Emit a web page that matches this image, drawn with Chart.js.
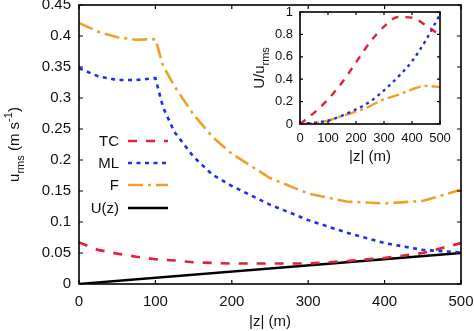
<!DOCTYPE html>
<html>
<head>
<meta charset="utf-8">
<script src="https://cdn.jsdelivr.net/npm/chart.js@4"></script>
<style>
  body { margin: 0; background: #fff; }
  #wrap { position: relative; width: 474px; height: 331px; }
  #mainChart { position: absolute; left: 0; top: 0; }
  #insetChart { position: absolute; left: 250px; top: 0; }
</style>
</head>
<body>
<div id="wrap">
  <canvas id="mainChart" width="474" height="331"></canvas>
  <canvas id="insetChart" width="215" height="170"></canvas>
</div>
<script>
// rms velocity profiles vs depth |z| (m)
const zProfile = [0, 25, 50, 75, 100, 110, 125, 150, 175, 200, 250, 300, 350, 400, 450, 500];
const tcRms = [0.067, 0.055, 0.049, 0.044, 0.040, 0.039, 0.038, 0.035, 0.034, 0.033, 0.033, 0.033, 0.037, 0.042, 0.050, 0.066];
const mlRms = [0.348, 0.335, 0.329, 0.329, 0.332, 0.285, 0.245, 0.205, 0.176, 0.158, 0.128, 0.103, 0.083, 0.066, 0.055, 0.051];
const fRms = [0.421, 0.407, 0.398, 0.394, 0.395, 0.352, 0.319, 0.273, 0.237, 0.210, 0.171, 0.146, 0.133, 0.130, 0.134, 0.152];
// mean current U(z)
const zMean = [0, 500];
const meanU = [0, 0.05];

// ratio U/u_rms for the inset
const zRatio = [0, 50, 100, 150, 200, 250, 300, 350, 400, 450, 500];
const tcRatio = [0, 0.10, 0.22, 0.37, 0.55, 0.73, 0.87, 0.955, 0.95, 0.88, 0.79];
const mlRatio = [0, 0.01, 0.03, 0.075, 0.13, 0.20, 0.30, 0.42, 0.56, 0.75, 0.98];
const fRatio = [0, 0.01, 0.03, 0.07, 0.11, 0.16, 0.22, 0.26, 0.31, 0.34, 0.33];

const xTicks = [0, 100, 200, 300, 400, 500];
const xLabels = ['0', '100', '200', '300', '400', '500'];
const yTicksMain = [0, 0.05, 0.1, 0.15, 0.2, 0.25, 0.3, 0.35, 0.4, 0.45];
const yLabelsMain = ['0', '0.05', '0.1', '0.15', '0.2', '0.25', '0.3', '0.35', '0.4', '0.45'];
const yTicksInset = [0, 0.2, 0.4, 0.6, 0.8, 1];
const yLabelsInset = ['0', '0.2', '0.4', '0.6', '0.8', '1'];

const FONT = "'Liberation Sans', Arial, sans-serif";
const INK = '#111';
const RED = '#e41e3c';
const BLUE = '#1f2fe6';
const ORANGE = '#f0a028';

function pts(xs, ys) {
    return xs.map((x, i) => ({ x: x, y: ys[i] }));
}

// box around the plot with inward tick marks on all four sides
const frame = {
    id: 'frame',
    afterDatasetsDraw(chart, args, opts) {
        const ctx = chart.ctx, a = chart.chartArea;
        const x = chart.scales.x, y = chart.scales.y;
        const L = opts.tick;
        ctx.save();
        ctx.strokeStyle = '#000';
        ctx.lineWidth = 1.2;
        ctx.beginPath();
        x.ticks.forEach(t => {
            const px = x.getPixelForValue(t.value);
            ctx.moveTo(px, a.bottom); ctx.lineTo(px, a.bottom - L);
            ctx.moveTo(px, a.top); ctx.lineTo(px, a.top + L);
        });
        y.ticks.forEach(t => {
            const py = y.getPixelForValue(t.value);
            ctx.moveTo(a.left, py); ctx.lineTo(a.left + L, py);
            ctx.moveTo(a.right, py); ctx.lineTo(a.right - L, py);
        });
        ctx.stroke();
        ctx.lineWidth = 1.6;
        ctx.strokeRect(a.left, a.top, a.right - a.left, a.bottom - a.top);
        ctx.restore();
    }
};

// rotated y title with sub/superscripts
const yTitle = {
    id: 'yTitle',
    afterDraw(chart, args, opts) {
        const ctx = chart.ctx, a = chart.chartArea;
        const size = opts.size, small = Math.round(size * 0.7);
        ctx.save();
        let w = 0;
        opts.parts.forEach(p => {
            ctx.font = (p.sub || p.sup ? small : size) + 'px ' + FONT;
            p.w = ctx.measureText(p.t).width;
            w += p.w;
        });
        ctx.translate(opts.x, (a.top + a.bottom) / 2);
        ctx.rotate(-Math.PI / 2);
        ctx.fillStyle = INK;
        ctx.textBaseline = 'alphabetic';
        let cx = -w / 2;
        opts.parts.forEach(p => {
            ctx.font = (p.sub || p.sup ? small : size) + 'px ' + FONT;
            const dy = p.sub ? size * 0.3 : (p.sup ? -size * 0.45 : 0);
            ctx.fillText(p.t, cx, dy);
            cx += p.w;
        });
        ctx.restore();
    }
};

// key drawn inside the plot: right-aligned names, line samples to the right
const key = {
    id: 'key',
    afterDatasetsDraw(chart, args, opts) {
        if (!opts.rows) return;
        const ctx = chart.ctx;
        ctx.save();
        chart.data.datasets.forEach((ds, i) => {
            const y = opts.rows[i];
            ctx.font = '15px ' + FONT;
            ctx.fillStyle = INK;
            ctx.textAlign = 'right';
            ctx.textBaseline = 'middle';
            ctx.fillText(ds.label, opts.x, y + 1);
            ctx.strokeStyle = ds.borderColor;
            ctx.lineWidth = ds.borderWidth;
            ctx.setLineDash(ds.borderDash || []);
            ctx.beginPath();
            ctx.moveTo(opts.x0, y);
            ctx.lineTo(opts.x1, y);
            ctx.stroke();
        });
        ctx.restore();
    }
};

function axes(o) {
    return {
        x: {
            type: 'linear', min: 0, max: 500,
            afterBuildTicks: s => { s.ticks = xTicks.map(v => ({ value: v })); },
            ticks: {
                callback: (v, i) => xLabels[i],
                font: { family: FONT, size: o.tickSize }, color: INK,
                padding: o.xPad, maxRotation: 0, autoSkip: false
            },
            grid: { display: false, drawTicks: false },
            border: { display: false },
            title: {
                display: true, text: '|z| (m)', color: INK,
                font: { family: FONT, size: 15 }, padding: { top: 0, bottom: o.titlePad }
            },
            afterFit: s => { s.height = o.xHeight; s.paddingLeft = 0; s.paddingRight = 0; }
        },
        y: {
            type: 'linear', min: 0, max: o.yTicks[o.yTicks.length - 1],
            afterBuildTicks: s => { s.ticks = o.yTicks.map(v => ({ value: v })); },
            ticks: {
                callback: (v, i) => o.yLabels[i],
                font: { family: FONT, size: o.tickSize }, color: INK,
                padding: o.yPad, autoSkip: false
            },
            grid: { display: false, drawTicks: false },
            border: { display: false },
            afterFit: s => { s.width = o.yWidth; s.paddingTop = 0; s.paddingBottom = 0; }
        }
    };
}

let mainChart = new Chart(document.getElementById('mainChart').getContext('2d'), {
    type: 'line',
    data: {
        datasets: [
            { label: 'TC', data: pts(zProfile, tcRms), borderColor: RED, borderWidth: 2.6, borderDash: [9, 9] },
            { label: 'ML', data: pts(zProfile, mlRms), borderColor: BLUE, borderWidth: 2.6, borderDash: [4, 4.5] },
            { label: 'F', data: pts(zProfile, fRms), borderColor: ORANGE, borderWidth: 2.6, borderDash: [15, 5, 3, 5] },
            { label: 'U(z)', data: pts(zMean, meanU), borderColor: '#000', borderWidth: 2.4 }
        ]
    },
    options: {
        responsive: false,
        animation: false,
        elements: { point: { radius: 0 }, line: { tension: 0, fill: false } },
        layout: { padding: { top: 5, right: 13, left: 0, bottom: 0 } },
        scales: axes({
            tickSize: 15, xPad: 9, yPad: 8, xHeight: 47, yWidth: 79, titlePad: 0,
            yTicks: yTicksMain, yLabels: yLabelsMain
        }),
        plugins: {
            legend: { display: false },
            tooltip: { enabled: false },
            frame: { tick: 4 },
            key: { x: 119, x0: 128, x1: 168, rows: [141, 163, 185, 208] },
            yTitle: {
                x: 19, size: 15,
                parts: [{ t: 'u' }, { t: 'rms', sub: true }, { t: ' (m s' }, { t: '-1', sup: true }, { t: ')' }]
            }
        }
    },
    plugins: [frame, key, yTitle]
});

let insetChart = new Chart(document.getElementById('insetChart').getContext('2d'), {
    type: 'line',
    data: {
        datasets: [
            { label: 'TC', data: pts(zRatio, tcRatio), borderColor: RED, borderWidth: 2.4, borderDash: [7, 7] },
            { label: 'ML', data: pts(zRatio, mlRatio), borderColor: BLUE, borderWidth: 2.4, borderDash: [3, 4] },
            { label: 'F', data: pts(zRatio, fRatio), borderColor: ORANGE, borderWidth: 2.4, borderDash: [12, 4, 3, 4] }
        ]
    },
    options: {
        responsive: false,
        animation: false,
        elements: { point: { radius: 0 }, line: { cubicInterpolationMode: 'monotone', fill: false } },
        layout: { padding: { top: 12, right: 25, left: 0, bottom: 0 } },
        scales: axes({
            tickSize: 13, xPad: 7, yPad: 7, xHeight: 46, yWidth: 50, titlePad: 4,
            yTicks: yTicksInset, yLabels: yLabelsInset
        }),
        plugins: {
            legend: { display: false },
            tooltip: { enabled: false },
            frame: { tick: 3 },
            key: {},
            yTitle: {
                x: 14, size: 15,
                parts: [{ t: 'U/u' }, { t: 'rms', sub: true }]
            }
        }
    },
    plugins: [frame, key, yTitle]
});
</script>
</body>
</html>
